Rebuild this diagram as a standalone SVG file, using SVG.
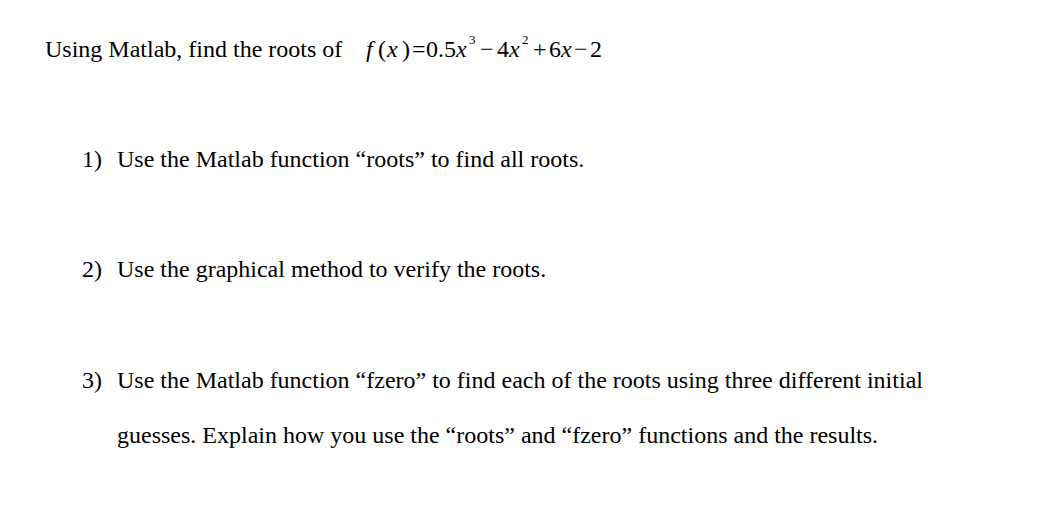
<svg xmlns="http://www.w3.org/2000/svg" width="1055" height="505" viewBox="0 0 1055 505">
<style>
text{font-family:"Liberation Serif",serif;font-size:24px;fill:#000}
.m{font-size:24px}
.i{font-style:italic}
.s{font-size:13px}
</style>
<rect width="1055" height="505" fill="#fff"/>
<text x="45" y="57">Using Matlab, find the roots of</text>
<text class="m i" x="366" y="57">f</text>
<text class="m" x="378" y="57">(</text>
<text class="m i" x="387" y="57">x</text>
<text class="m" x="402" y="57">)</text>
<text class="m" x="412" y="57">=</text>
<text class="m" x="426" y="57">0.5</text>
<text class="m i" x="456" y="57">x</text>
<text class="s" x="469" y="44">3</text>
<text class="m" x="480" y="57">−</text>
<text class="m" x="497" y="57">4</text>
<text class="m i" x="509" y="57">x</text>
<text class="s" x="522" y="44">2</text>
<text class="m" x="533" y="57">+</text>
<text class="m" x="549" y="57">6</text>
<text class="m i" x="561" y="57">x</text>
<text class="m" x="574" y="57">−</text>
<text class="m" x="590" y="57">2</text>
<text x="82" y="167">1)</text><text x="117" y="167">Use the Matlab function “roots” to find all roots.</text>
<text x="82" y="277">2)</text><text x="117" y="277">Use the graphical method to verify the roots.</text>
<text x="82" y="388">3)</text><text x="117" y="388">Use the Matlab function “fzero” to find each of the roots using three different initial</text>
<text x="117" y="443">guesses. Explain how you use the “roots” and “fzero” functions and the results.</text>
</svg>
